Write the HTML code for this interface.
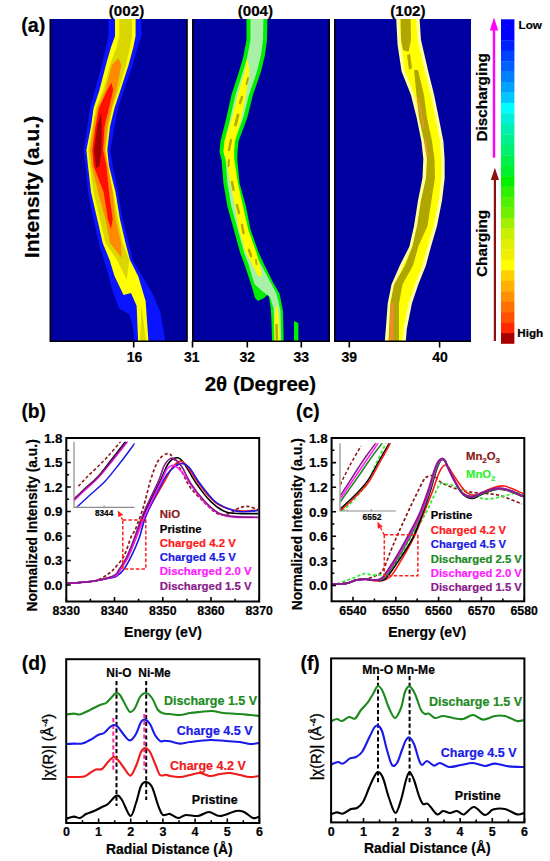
<!DOCTYPE html>
<html><head><meta charset="utf-8"><style>
html,body{margin:0;padding:0;background:#fff;width:550px;height:861px;overflow:hidden}
svg{display:block}
</style></head><body>
<svg width="550" height="861" viewBox="0 0 550 861">
<rect x="0" y="0" width="550" height="861" fill="#fff"/>
<clipPath id="c1"><rect x="50" y="19" width="137" height="322"/></clipPath>
<clipPath id="c2"><rect x="192" y="19" width="137.5" height="322"/></clipPath>
<clipPath id="c3"><rect x="334.5" y="19" width="136.5" height="322"/></clipPath>
<rect x="50" y="19" width="137" height="322" fill="#0000a0"/>
<rect x="192" y="19" width="137.5" height="322" fill="#0000a0"/>
<rect x="334.5" y="19" width="136.5" height="322" fill="#0000a0"/>
<g clip-path="url(#c1)"><polygon fill="#0a14ff" points="108.5,15.0 108.5,36.0 105.9,47.7 101.8,65.0 95.0,90.0 90.0,108.0 87.3,126.4 83.6,150.0 85.5,166.0 88.0,192.0 93.6,219.5 98.0,240.0 103.9,260.0 108.0,273.0 113.0,292.7 119.5,309.0 129.3,314.0 132.6,325.5 135.0,345.0 166.0,345.0 160.4,312.4 153.8,296.0 142.4,276.4 132.6,260.0 128.0,240.0 122.7,219.5 118.0,192.0 112.7,166.0 110.5,150.0 114.5,126.4 118.0,108.0 124.1,90.0 132.7,65.0 137.5,47.7 141.5,36.0 141.5,15.0"/><polygon fill="#ffff00" points="115.0,15.0 115.0,36.0 110.8,47.7 105.9,65.0 99.5,90.0 93.6,108.0 91.0,126.4 86.4,150.0 88.0,166.0 91.0,192.0 97.3,219.5 102.7,243.0 109.6,260.0 114.5,276.0 123.5,295.0 131.0,293.0 136.6,305.8 138.3,345.0 148.7,345.0 145.6,301.0 138.3,276.4 130.0,260.0 125.5,243.0 120.0,219.5 115.5,192.0 109.0,166.0 107.3,150.0 110.0,126.4 114.5,108.0 120.5,90.0 128.6,65.0 133.2,47.7 135.6,36.0 135.6,15.0"/><polygon fill="#dad600" points="119.3,15.0 119.3,36.0 116.3,47.7 110.0,65.0 103.2,90.0 96.0,108.0 92.5,126.4 88.2,150.0 90.0,166.0 93.5,192.0 100.0,219.5 105.5,243.0 117.0,260.0 126.8,280.0 126.8,280.0 129.3,260.0 122.7,243.0 118.0,219.5 113.0,192.0 107.5,166.0 105.8,150.0 108.5,126.4 112.5,108.0 118.6,90.0 125.9,65.0 129.9,47.7 132.0,36.0 132.0,15.0"/><polygon fill="#dad600" points="141.5,305.8 140,345 146.5,345"/><polygon fill="#ff8a00" points="118.5,58.2 111.8,65.0 105.5,90.0 97.3,108.0 93.6,126.4 90.0,150.0 91.8,166.0 98.0,192.0 105.5,219.5 110.0,243.0 121.8,258.0 121.8,258.0 121.0,243.0 115.5,219.5 112.7,192.0 108.0,166.0 105.0,150.0 107.3,126.4 111.8,108.0 116.4,90.0 121.4,65.0 118.5,58.2"/><polygon fill="#ff1000" points="111.5,82.7 107.3,90.0 99.0,108.0 95.5,126.4 92.3,150.0 93.6,166.0 103.6,192.0 108.0,219.5 111.0,229.0 111.0,229.0 112.7,219.5 109.0,192.0 106.4,166.0 103.2,150.0 104.5,126.4 109.0,108.0 113.2,90.0 111.5,82.7"/><polygon fill="#a00000" points="101,113 97.3,126.4 94.1,150 96,168 99.5,166 101.4,150 101.8,126.4"/></g>
<g clip-path="url(#c2)"><polygon fill="#00ee00" points="246.5,15.0 246.5,40.0 243.0,58.0 239.0,71.6 231.5,94.8 226.3,118.0 220.5,141.3 219.5,152.0 221.6,160.0 223.4,183.2 227.4,206.5 233.8,229.7 240.2,252.9 244.5,264.5 251.8,286.4 255.0,298.0 258.0,301.0 264.0,298.0 268.5,294.0 270.7,308.0 271.5,322.7 272.2,345.0 283.8,345.0 283.0,311.0 279.5,293.6 273.6,283.5 264.2,264.5 258.8,252.9 250.6,229.7 246.0,206.5 239.6,183.2 237.3,160.0 237.5,152.0 238.5,141.3 247.2,118.0 253.0,94.8 261.0,71.6 265.0,55.0 267.0,40.0 267.5,15.0"/><polygon fill="#a8f0a8" points="250.5,15.0 250.5,40.0 247.0,58.0 243.0,71.6 235.5,94.8 230.3,118.0 224.5,141.3 223.5,152.0 225.6,160.0 227.4,183.2 231.4,206.5 237.8,229.7 244.2,252.9 248.5,264.5 254.5,284.0 262.0,291.0 270.0,297.0 273.5,308.0 274.0,322.7 274.5,345.0 281.3,345.0 280.5,311.0 276.5,293.6 254.8,252.9 246.6,229.7 242.0,206.5 235.6,183.2 233.3,160.0 233.5,152.0 234.5,141.3 243.2,118.0 249.0,94.8 257.0,71.6 261.0,55.0 263.0,40.0 263.5,15.0"/><polygon fill="#ffff00" points="247.0,60.0 244.8,71.6 237.9,94.8 232.0,118.0 224.5,141.3 223.5,152.0 226.3,160.0 230.3,183.2 235.0,206.5 239.0,229.7 246.0,252.9 252.0,264.0 258.0,276.0 262.0,276.0 259.5,264.0 256.5,252.9 248.3,229.7 243.1,206.5 237.9,183.2 234.4,160.0 234.0,152.0 235.0,141.3 241.4,118.0 246.0,94.8 249.5,71.6 248.0,60.0"/><polygon fill="#ffff00" points="276,306 274.3,322 274.8,345 280,345 279.2,322 277.5,306"/><polygon fill="#00ee00" points="294,321 298.4,323 298.4,345 294,345"/><path d="M248.0,78.0 L246.5,84.0" stroke="#b4ac00" stroke-width="2.0" stroke-linecap="round"/><path d="M242.0,97.0 L240.0,103.0" stroke="#b4ac00" stroke-width="2.5" stroke-linecap="round"/><path d="M238.0,115.0 L235.5,125.0" stroke="#b4ac00" stroke-width="3.0" stroke-linecap="round"/><path d="M231.0,140.0 L229.0,150.0" stroke="#b4ac00" stroke-width="2.5" stroke-linecap="round"/><path d="M229.0,160.0 L228.5,166.0" stroke="#b4ac00" stroke-width="2.0" stroke-linecap="round"/><path d="M232.0,182.0 L233.5,190.0" stroke="#b4ac00" stroke-width="2.5" stroke-linecap="round"/><path d="M237.0,205.0 L239.0,213.0" stroke="#b4ac00" stroke-width="2.5" stroke-linecap="round"/><path d="M242.0,225.0 L243.5,233.0" stroke="#b4ac00" stroke-width="2.5" stroke-linecap="round"/><path d="M249.0,250.0 L251.0,256.0" stroke="#b4ac00" stroke-width="2.5" stroke-linecap="round"/><path d="M256.0,260.0 L256.5,264.0" stroke="#b4ac00" stroke-width="2.0" stroke-linecap="round"/><path d="M276.5,325.0 L276.8,339.0" stroke="#b4ac00" stroke-width="2.5" stroke-linecap="round"/></g>
<g clip-path="url(#c3)"><polygon fill="#ffff98" points="396.0,15.0 397.6,45.0 401.6,71.6 410.9,94.8 416.7,118.0 421.4,141.3 423.3,158.7 422.5,178.0 418.0,200.5 414.0,226.0 409.4,246.4 399.8,265.5 391.5,284.5 387.7,303.6 385.8,329.0 384.5,345.0 405.5,345.0 406.8,329.0 411.9,303.6 418.3,284.5 425.9,265.5 431.0,246.4 437.0,226.0 442.0,200.5 444.7,178.0 444.6,158.7 443.4,141.3 438.8,118.0 434.1,94.8 428.3,71.6 421.0,40.0 419.3,15.0"/><polygon fill="#ffff00" points="399.5,15.0 401.1,45.0 405.1,71.6 414.4,94.8 420.2,118.0 424.9,141.3 426.8,158.7 426.0,178.0 421.5,200.5 417.5,226.0 412.9,246.4 403.3,265.5 395.0,284.5 391.2,303.6 389.3,329.0 388.0,345.0 402.0,345.0 403.3,329.0 408.4,303.6 414.8,284.5 422.4,265.5 427.5,246.4 433.5,226.0 438.5,200.5 441.2,178.0 441.1,158.7 439.9,141.3 435.3,118.0 430.6,94.8 424.8,71.6 417.5,40.0 415.8,15.0"/><polygon fill="#b0a600" points="414.0,70.0 416.5,95.0 419.0,118.0 424.0,141.0 427.0,159.0 426.0,178.0 421.0,200.0 417.0,226.0 412.5,246.0 405.0,265.5 394.0,284.5 390.3,303.6 389.0,329.0 388.5,345.0 399.0,345.0 399.0,329.0 399.0,303.6 402.5,284.5 413.0,265.5 418.5,246.0 427.5,226.0 431.5,200.0 435.0,178.0 434.5,159.0 432.0,141.0 427.0,118.0 424.0,95.0 418.0,70.0"/><polygon fill="#b0a600" points="400.5,15 410.5,15 411,40 408.5,52 403,50 401,40"/><polygon fill="#b0a600" points="407,55 410,54 412,68 409,70"/><path d="M418.0,98.0 L424.0,128.0" stroke="#f09040" stroke-width="1.6" stroke-linecap="round"/><path d="M425.0,140.0 L428.0,156.0" stroke="#f09040" stroke-width="1.6" stroke-linecap="round"/><polygon fill="#f08a30" points="391,303 394,303 393.5,345 389.5,345"/></g>
<g stroke="#000" stroke-width="1.6" fill="none">
<path d="M50.3,19 V341.2 H187 V19"/>
<path d="M192.8,19 V341.2 H329.2 V19"/>
<path d="M334.8,19 V341.2 H471"/>
<path d="M133.7,341 V347.5"/>
<path d="M192.5,341 V347.5"/>
<path d="M247.3,341 V347.5"/>
<path d="M301.3,341 V347.5"/>
<path d="M349.3,341 V347.5"/>
<path d="M439.6,341 V347.5"/>
</g>
<text x="134.5" y="362.2" font-size="14" text-anchor="middle" font-family="Liberation Sans" font-weight="bold" stroke="#000" stroke-width="0.2">16</text>
<text x="191.8" y="362.2" font-size="14" text-anchor="middle" font-family="Liberation Sans" font-weight="bold" stroke="#000" stroke-width="0.2">31</text>
<text x="247.3" y="362.2" font-size="14" text-anchor="middle" font-family="Liberation Sans" font-weight="bold" stroke="#000" stroke-width="0.2">32</text>
<text x="301.3" y="362.2" font-size="14" text-anchor="middle" font-family="Liberation Sans" font-weight="bold" stroke="#000" stroke-width="0.2">33</text>
<text x="349.3" y="362.2" font-size="14" text-anchor="middle" font-family="Liberation Sans" font-weight="bold" stroke="#000" stroke-width="0.2">39</text>
<text x="440.0" y="362.2" font-size="14" text-anchor="middle" font-family="Liberation Sans" font-weight="bold" stroke="#000" stroke-width="0.2">40</text>
<text x="260.4" y="391.4" font-size="20.5" text-anchor="middle" font-family="Liberation Sans" font-weight="bold" stroke="#000" stroke-width="0.2">2θ (Degree)</text>
<text transform="translate(39.2,187) rotate(-90)" x="0" y="0" font-size="21" text-anchor="middle" font-family="Liberation Sans" font-weight="bold" stroke="#000" stroke-width="0.2">Intensity (a.u.)</text>
<text x="21.2" y="32.3" font-size="19.8" font-family="Liberation Sans" font-weight="bold" stroke="#000" stroke-width="0.2">(a)</text>
<text x="126.5" y="15.8" font-size="15.2" text-anchor="middle" font-family="Liberation Sans" font-weight="bold" stroke="#000" stroke-width="0.2">(002)</text>
<text x="255.4" y="15.8" font-size="15.2" text-anchor="middle" font-family="Liberation Sans" font-weight="bold" stroke="#000" stroke-width="0.2">(004)</text>
<text x="407.9" y="15.8" font-size="15.2" text-anchor="middle" font-family="Liberation Sans" font-weight="bold" stroke="#000" stroke-width="0.2">(102)</text>
<rect x="501" y="19.30" width="13.4" height="10.76" fill="#0000ff"/>
<rect x="501" y="29.76" width="13.4" height="10.76" fill="#0000ff"/>
<rect x="501" y="40.22" width="13.4" height="10.76" fill="#0020ff"/>
<rect x="501" y="50.67" width="13.4" height="10.76" fill="#0040ff"/>
<rect x="501" y="61.13" width="13.4" height="10.76" fill="#0060ff"/>
<rect x="501" y="71.59" width="13.4" height="10.76" fill="#0080ff"/>
<rect x="501" y="82.05" width="13.4" height="10.76" fill="#00a0ff"/>
<rect x="501" y="92.51" width="13.4" height="10.76" fill="#00c8ff"/>
<rect x="501" y="102.96" width="13.4" height="10.76" fill="#00ffff"/>
<rect x="501" y="113.42" width="13.4" height="10.76" fill="#00f0d8"/>
<rect x="501" y="123.88" width="13.4" height="10.76" fill="#00f0b0"/>
<rect x="501" y="134.34" width="13.4" height="10.76" fill="#00f090"/>
<rect x="501" y="144.80" width="13.4" height="10.76" fill="#00f070"/>
<rect x="501" y="155.25" width="13.4" height="10.76" fill="#00f050"/>
<rect x="501" y="165.71" width="13.4" height="10.76" fill="#00f030"/>
<rect x="501" y="176.17" width="13.4" height="10.76" fill="#00f000"/>
<rect x="501" y="186.63" width="13.4" height="10.76" fill="#30f000"/>
<rect x="501" y="197.09" width="13.4" height="10.76" fill="#50f000"/>
<rect x="501" y="207.55" width="13.4" height="10.76" fill="#70f000"/>
<rect x="501" y="218.00" width="13.4" height="10.76" fill="#a0f000"/>
<rect x="501" y="228.46" width="13.4" height="10.76" fill="#c8f000"/>
<rect x="501" y="238.92" width="13.4" height="10.76" fill="#e0f000"/>
<rect x="501" y="249.38" width="13.4" height="10.76" fill="#f0f000"/>
<rect x="501" y="259.84" width="13.4" height="10.76" fill="#ffff00"/>
<rect x="501" y="270.29" width="13.4" height="10.76" fill="#ffd000"/>
<rect x="501" y="280.75" width="13.4" height="10.76" fill="#ffb000"/>
<rect x="501" y="291.21" width="13.4" height="10.76" fill="#ff9000"/>
<rect x="501" y="301.67" width="13.4" height="10.76" fill="#ff7000"/>
<rect x="501" y="312.13" width="13.4" height="10.76" fill="#ff5000"/>
<rect x="501" y="322.58" width="13.4" height="10.76" fill="#ff2800"/>
<rect x="501" y="333.04" width="13.4" height="10.76" fill="#a80000"/>
<text x="518.6" y="29" font-size="11.7" font-family="Liberation Sans" font-weight="bold" stroke="#000" stroke-width="0.2">Low</text>
<text x="517.3" y="336.6" font-size="11.7" font-family="Liberation Sans" font-weight="bold" stroke="#000" stroke-width="0.2">High</text>
<rect x="492.8" y="29" width="2.4" height="128.7" fill="#ff00ff"/>
<polygon points="494,17.5 498.2,30.5 489.8,30.5" fill="#ff00ff"/>
<rect x="493.8" y="178" width="2.2" height="163" fill="#8b1010"/>
<polygon points="494.9,167.7 499,180 490.8,180" fill="#8b1010"/>
<text transform="translate(487.4,97.3) rotate(-90)" font-size="15.3" text-anchor="middle" font-family="Liberation Sans" font-weight="bold" stroke="#000" stroke-width="0.2">Discharging</text>
<text transform="translate(487.4,243.4) rotate(-90)" font-size="15.3" text-anchor="middle" font-family="Liberation Sans" font-weight="bold" stroke="#000" stroke-width="0.2">Charging</text>
<text x="21.4" y="418" font-size="19.3" font-family="Liberation Sans" font-weight="bold" stroke="#000" stroke-width="0.2">(b)</text>
<text x="62.5" y="589.7" font-size="13.4" text-anchor="end" font-family="Liberation Sans" font-weight="bold" stroke="#000" stroke-width="0.2">0.0</text>
<text x="62.5" y="565.2" font-size="13.4" text-anchor="end" font-family="Liberation Sans" font-weight="bold" stroke="#000" stroke-width="0.2">0.3</text>
<text x="62.5" y="540.7" font-size="13.4" text-anchor="end" font-family="Liberation Sans" font-weight="bold" stroke="#000" stroke-width="0.2">0.6</text>
<text x="62.5" y="516.2" font-size="13.4" text-anchor="end" font-family="Liberation Sans" font-weight="bold" stroke="#000" stroke-width="0.2">0.9</text>
<text x="62.5" y="491.7" font-size="13.4" text-anchor="end" font-family="Liberation Sans" font-weight="bold" stroke="#000" stroke-width="0.2">1.2</text>
<text x="62.5" y="467.2" font-size="13.4" text-anchor="end" font-family="Liberation Sans" font-weight="bold" stroke="#000" stroke-width="0.2">1.5</text>
<text x="62.5" y="442.7" font-size="13.4" text-anchor="end" font-family="Liberation Sans" font-weight="bold" stroke="#000" stroke-width="0.2">1.8</text>
<text x="66.3" y="615.2" font-size="12.3" text-anchor="middle" font-family="Liberation Sans" font-weight="bold" stroke="#000" stroke-width="0.2">8330</text>
<text x="114.5" y="615.2" font-size="12.3" text-anchor="middle" font-family="Liberation Sans" font-weight="bold" stroke="#000" stroke-width="0.2">8340</text>
<text x="162.8" y="615.2" font-size="12.3" text-anchor="middle" font-family="Liberation Sans" font-weight="bold" stroke="#000" stroke-width="0.2">8350</text>
<text x="211.0" y="615.2" font-size="12.3" text-anchor="middle" font-family="Liberation Sans" font-weight="bold" stroke="#000" stroke-width="0.2">8360</text>
<text x="259.2" y="615.2" font-size="12.3" text-anchor="middle" font-family="Liberation Sans" font-weight="bold" stroke="#000" stroke-width="0.2">8370</text>
<text x="163" y="637" font-size="14" text-anchor="middle" font-family="Liberation Sans" font-weight="bold" stroke="#000" stroke-width="0.2">Energy (eV)</text>
<text transform="translate(36.6,525.4) rotate(-90)" font-size="13.85" text-anchor="middle" font-family="Liberation Sans" font-weight="bold" stroke="#000" stroke-width="0.2">Normalized Intensity (a.u.)</text>
<clipPath id="cb"><rect x="67" y="439" width="191" height="161.5"/></clipPath>
<g clip-path="url(#cb)">
<path d="M66.3,583.5 C70.4,583.2 85.4,582.2 91.0,581.5 C96.6,580.8 97.2,580.2 100.0,579.0 C102.8,577.8 105.8,575.6 108.0,574.0 C110.2,572.4 110.8,572.5 113.5,569.5 C116.2,566.5 121.1,561.2 124.0,555.8 C126.9,550.4 129.0,541.9 131.0,537.2 C133.0,532.6 133.8,533.3 136.0,527.9 C138.2,522.5 141.6,512.8 144.0,505.0 C146.4,497.2 148.0,488.3 150.3,481.0 C152.6,473.7 155.2,465.6 158.0,461.0 C160.8,456.4 164.7,454.3 167.2,453.7 C169.7,453.1 170.5,454.4 173.0,457.5 C175.5,460.6 179.2,467.1 182.0,472.0 C184.8,476.9 186.1,481.7 190.0,487.0 C193.9,492.3 200.8,499.1 205.5,503.6 C210.2,508.1 214.3,512.3 218.2,514.0 C222.1,515.7 225.7,514.5 229.0,513.6 C232.3,512.7 234.9,509.7 238.0,508.5 C241.1,507.3 244.2,506.3 247.3,506.4 C250.4,506.5 254.5,508.4 256.4,509.0 C258.3,509.6 258.1,509.8 258.5,510.0" fill="none" stroke="#8b1a1a" stroke-width="1.70" stroke-linejoin="round" stroke-dasharray="3.2,2.2"/>
<path d="M66.3,583.5 C70.4,583.2 84.4,582.3 91.0,581.5 C97.6,580.7 101.9,579.5 106.0,578.5 C110.1,577.5 113.3,576.9 115.5,575.5 C117.7,574.1 117.4,573.3 119.4,570.0 C121.5,566.7 125.2,561.3 127.8,555.8 C130.4,550.3 132.4,544.3 135.2,537.2 C138.0,530.1 140.2,522.6 144.5,513.0 C148.8,503.4 156.9,488.0 160.8,479.8 C164.7,471.6 165.4,467.7 168.0,464.0 C170.6,460.3 173.9,458.0 176.5,457.8 C179.1,457.6 180.3,458.4 183.6,462.7 C186.9,467.0 191.8,477.1 196.4,483.6 C201.0,490.1 206.2,497.1 211.0,501.8 C215.8,506.5 220.4,509.8 225.5,511.8 C230.6,513.8 236.3,513.3 241.8,513.6 C247.3,513.9 255.7,513.6 258.5,513.6" fill="none" stroke="#000000" stroke-width="1.60" stroke-linejoin="round"/>
<path d="M66.3,583.5 C70.4,583.2 84.4,582.3 91.0,581.5 C97.6,580.7 101.8,579.5 106.0,578.5 C110.2,577.5 113.7,577.2 116.0,575.8 C118.3,574.4 117.9,573.6 120.0,570.3 C122.1,567.0 126.0,561.3 128.7,555.8 C131.4,550.3 133.5,544.1 136.3,537.2 C139.1,530.4 140.8,524.3 145.7,514.7 C150.5,505.1 161.0,487.6 165.4,479.8 C169.8,472.0 169.6,471.1 172.0,468.0 C174.4,464.9 177.5,461.6 180.0,461.3 C182.5,461.0 183.7,462.0 187.0,466.0 C190.3,470.0 195.4,479.5 200.0,485.5 C204.6,491.5 209.7,497.9 214.5,501.8 C219.3,505.7 224.4,507.5 229.0,509.0 C233.6,510.5 236.9,510.8 241.8,511.0 C246.7,511.2 255.7,510.2 258.5,510.0" fill="none" stroke="#ff1a1a" stroke-width="1.60" stroke-linejoin="round"/>
<path d="M66.3,583.5 C70.4,583.2 84.4,582.3 91.0,581.5 C97.6,580.7 101.8,579.6 106.0,578.8 C110.2,578.0 113.1,578.0 116.0,576.5 C118.9,575.0 120.9,573.2 123.5,569.7 C126.1,566.2 128.8,561.2 131.5,555.8 C134.2,550.4 137.1,543.8 139.5,537.2 C141.9,530.6 142.0,525.6 146.0,516.0 C150.0,506.4 159.4,487.6 163.7,479.8 C168.0,472.0 169.1,471.7 172.0,469.0 C174.9,466.3 178.3,463.9 181.1,463.6 C183.9,463.3 185.8,464.0 189.0,467.3 C192.2,470.6 195.8,478.0 200.0,483.6 C204.2,489.2 209.7,496.8 214.5,501.0 C219.3,505.2 224.4,507.2 229.0,509.0 C233.6,510.8 236.9,511.6 241.8,511.8 C246.7,512.0 255.7,510.7 258.5,510.5" fill="none" stroke="#1a1ae6" stroke-width="1.60" stroke-linejoin="round"/>
<path d="M66.3,583.5 C70.4,583.2 84.4,582.3 91.0,581.5 C97.6,580.7 101.8,579.5 106.0,578.5 C110.2,577.5 113.7,576.9 116.0,575.5 C118.3,574.1 117.7,573.3 119.8,570.0 C121.9,566.7 125.8,561.3 128.5,555.8 C131.2,550.3 133.3,544.1 136.1,537.2 C138.9,530.4 141.0,524.3 145.3,514.7 C149.6,505.1 158.3,487.4 161.9,479.8 C165.5,472.2 165.2,471.4 167.0,469.0 C168.8,466.6 170.6,465.5 172.4,465.3 C174.2,465.1 175.9,466.2 178.0,468.0 C180.1,469.8 182.8,473.2 185.0,476.0 C187.2,478.8 187.9,480.8 191.0,485.0 C194.1,489.2 199.1,496.3 203.6,501.0 C208.1,505.7 213.2,510.3 218.0,513.0 C222.8,515.7 225.9,516.2 232.7,517.0 C239.4,517.8 254.2,517.4 258.5,517.5" fill="none" stroke="#ff1aff" stroke-width="1.60" stroke-linejoin="round"/>
<path d="M66.3,583.5 C70.4,583.2 84.4,582.3 91.0,581.5 C97.6,580.7 102.0,579.6 106.0,578.5 C110.0,577.4 112.8,576.5 115.0,575.0 C117.2,573.5 116.9,572.9 118.9,569.7 C121.0,566.5 124.7,561.2 127.3,555.8 C129.9,550.4 131.9,544.5 134.7,537.2 C137.5,529.9 139.9,521.6 144.0,512.0 C148.1,502.4 155.7,487.5 159.0,479.8 C162.3,472.1 162.1,469.6 164.0,466.0 C165.9,462.4 168.6,459.4 170.6,458.4 C172.6,457.4 174.1,458.6 176.0,460.0 C177.9,461.4 179.5,463.1 182.0,467.0 C184.5,470.9 187.4,478.1 191.0,483.6 C194.6,489.1 199.1,495.1 203.6,500.0 C208.1,504.9 213.2,510.0 218.0,512.7 C222.8,515.4 225.9,515.6 232.7,516.4 C239.4,517.2 254.2,517.1 258.5,517.3" fill="none" stroke="#8a1a8a" stroke-width="1.60" stroke-linejoin="round"/>
</g>
<rect x="122.8" y="520" width="23" height="49" fill="none" stroke="#ff2020" stroke-width="1.5" stroke-dasharray="3.6,2"/>
<path d="M122.7,520 L119.5,514" fill="none" stroke="#ff2020" stroke-width="1.3" stroke-dasharray="3,2"/>
<polygon points="117.6,510.5 123.2,514.8 118.5,517.3" fill="#ff2020"/>
<path d="M74,441.8 V507.3 H134.4" fill="none" stroke="#8c8c8c" stroke-width="1.2"/>
<path d="M104.1,507.3 v-2" fill="none" stroke="#8c8c8c" stroke-width="1"/>
<text x="104.1" y="516.2" font-size="8.2" text-anchor="middle" font-family="Liberation Sans" font-weight="bold" stroke="#000" stroke-width="0.2">8344</text>
<clipPath id="ib"><rect x="74.6" y="441.8" width="60" height="65"/></clipPath><g clip-path="url(#ib)">
<path d="M78.4,486.2 C80.0,484.5 84.5,479.5 88.0,476.0 C91.5,472.5 95.8,468.7 99.5,465.0 C103.2,461.3 106.4,458.0 110.0,454.0 C113.6,450.0 119.2,443.2 121.0,441.0" fill="none" stroke="#8b1a1a" stroke-width="1.50" stroke-linejoin="round" stroke-dasharray="3.2,2.2"/>
<path d="M72.0,501.0 C74.2,498.9 80.7,492.6 85.0,488.5 C89.3,484.4 93.5,481.6 98.0,476.7 C102.5,471.8 107.3,464.9 112.0,459.0 C116.7,453.1 123.7,444.0 126.0,441.0" fill="none" stroke="#000000" stroke-width="1.60" stroke-linejoin="round"/>
<path d="M72.0,502.5 C74.2,500.4 80.7,494.1 85.0,490.0 C89.3,485.9 93.3,483.0 98.0,478.0 C102.7,473.0 108.0,466.2 113.0,460.0 C118.0,453.8 125.5,444.2 128.0,441.0" fill="none" stroke="#ff1aff" stroke-width="1.60" stroke-linejoin="round"/>
<path d="M72.0,501.5 C74.2,499.4 80.7,493.0 85.0,489.0 C89.3,485.0 93.4,482.2 98.0,477.3 C102.6,472.4 107.7,465.6 112.5,459.5 C117.3,453.4 124.6,444.1 127.0,441.0" fill="none" stroke="#8a1a8a" stroke-width="1.30" stroke-linejoin="round"/>
<path d="M76.0,508.0 C78.3,505.8 85.1,499.5 90.0,495.0 C94.9,490.5 100.3,486.3 105.3,481.0 C110.3,475.7 115.0,469.3 120.0,463.0 C125.0,456.7 132.5,446.3 135.0,443.0" fill="none" stroke="#1a1ae6" stroke-width="1.50" stroke-linejoin="round"/>
</g>
<text x="159.8" y="518.2" font-size="11.4" fill="#8b1a1a" font-family="Liberation Sans" font-weight="bold" stroke="#8b1a1a" stroke-width="0.2">NiO</text>
<text x="159.8" y="532.5" font-size="11.4" fill="#000000" font-family="Liberation Sans" font-weight="bold" stroke="#000000" stroke-width="0.2">Pristine</text>
<text x="159.8" y="546.7" font-size="11.4" fill="#ff1a1a" font-family="Liberation Sans" font-weight="bold" stroke="#ff1a1a" stroke-width="0.2">Charged 4.2 V</text>
<text x="159.8" y="561.0" font-size="11.4" fill="#1a1ae6" font-family="Liberation Sans" font-weight="bold" stroke="#1a1ae6" stroke-width="0.2">Charged 4.5 V</text>
<text x="159.8" y="575.2" font-size="11.4" fill="#ff1aff" font-family="Liberation Sans" font-weight="bold" stroke="#ff1aff" stroke-width="0.2">Discharged 2.0 V</text>
<text x="159.8" y="589.5" font-size="11.4" fill="#8a1a8a" font-family="Liberation Sans" font-weight="bold" stroke="#8a1a8a" stroke-width="0.2">Discharged 1.5 V</text>
<g stroke="#000" stroke-width="2" fill="none">
<rect x="66.3" y="438.0" width="192.9" height="163.5"/>
<path stroke-width="1.6" d="M66.3,585.0 h4.5 M66.3,560.5 h4.5 M66.3,536.0 h4.5 M66.3,511.5 h4.5 M66.3,487.0 h4.5 M66.3,462.5 h4.5 M66.3,438.0 h4.5 M66.3,585.0 h2.8 M66.3,572.7 h2.8 M66.3,548.2 h2.8 M66.3,523.7 h2.8 M66.3,499.2 h2.8 M66.3,474.7 h2.8 M66.3,450.2 h2.8 M66.3,601.5 v-4.5 M114.5,601.5 v-4.5 M162.8,601.5 v-4.5 M211.0,601.5 v-4.5 M259.2,601.5 v-4.5 M90.4,601.5 v-2.8 M138.6,601.5 v-2.8 M186.9,601.5 v-2.8 M235.1,601.5 v-2.8 "/>
</g>
<text x="296" y="418" font-size="19.3" font-family="Liberation Sans" font-weight="bold" stroke="#000" stroke-width="0.2">(c)</text>
<text x="327.6" y="590.2" font-size="13.4" text-anchor="end" font-family="Liberation Sans" font-weight="bold" stroke="#000" stroke-width="0.2">0.0</text>
<text x="327.6" y="565.6" font-size="13.4" text-anchor="end" font-family="Liberation Sans" font-weight="bold" stroke="#000" stroke-width="0.2">0.3</text>
<text x="327.6" y="541.0" font-size="13.4" text-anchor="end" font-family="Liberation Sans" font-weight="bold" stroke="#000" stroke-width="0.2">0.6</text>
<text x="327.6" y="516.5" font-size="13.4" text-anchor="end" font-family="Liberation Sans" font-weight="bold" stroke="#000" stroke-width="0.2">0.9</text>
<text x="327.6" y="491.9" font-size="13.4" text-anchor="end" font-family="Liberation Sans" font-weight="bold" stroke="#000" stroke-width="0.2">1.2</text>
<text x="327.6" y="467.3" font-size="13.4" text-anchor="end" font-family="Liberation Sans" font-weight="bold" stroke="#000" stroke-width="0.2">1.5</text>
<text x="327.6" y="442.7" font-size="13.4" text-anchor="end" font-family="Liberation Sans" font-weight="bold" stroke="#000" stroke-width="0.2">1.8</text>
<text x="353.0" y="615" font-size="12.3" text-anchor="middle" font-family="Liberation Sans" font-weight="bold" stroke="#000" stroke-width="0.2">6540</text>
<text x="395.8" y="615" font-size="12.3" text-anchor="middle" font-family="Liberation Sans" font-weight="bold" stroke="#000" stroke-width="0.2">6550</text>
<text x="438.6" y="615" font-size="12.3" text-anchor="middle" font-family="Liberation Sans" font-weight="bold" stroke="#000" stroke-width="0.2">6560</text>
<text x="481.4" y="615" font-size="12.3" text-anchor="middle" font-family="Liberation Sans" font-weight="bold" stroke="#000" stroke-width="0.2">6570</text>
<text x="524.2" y="615" font-size="12.3" text-anchor="middle" font-family="Liberation Sans" font-weight="bold" stroke="#000" stroke-width="0.2">6580</text>
<text x="427.2" y="637" font-size="14" text-anchor="middle" font-family="Liberation Sans" font-weight="bold" stroke="#000" stroke-width="0.2">Energy (eV)</text>
<text transform="translate(301.6,524.2) rotate(-90)" font-size="13.85" text-anchor="middle" font-family="Liberation Sans" font-weight="bold" stroke="#000" stroke-width="0.2">Normalized Intensity (a.u.)</text>
<clipPath id="cc"><rect x="332.4" y="439" width="191" height="161.5"/></clipPath><g clip-path="url(#cc)">
<path d="M331.6,584.2 C334.1,584.1 342.3,584.1 346.4,583.4 C350.5,582.7 352.7,580.8 356.2,580.0 C359.7,579.2 364.3,579.2 367.6,578.5 C370.9,577.8 373.4,576.9 376.0,575.5 C378.6,574.1 380.5,574.3 383.0,570.0 C385.5,565.7 388.6,556.1 391.2,549.8 C393.8,543.5 395.2,540.0 398.7,532.3 C402.2,524.5 407.9,512.0 412.1,503.3 C416.3,494.6 421.2,484.4 423.7,480.0 C426.2,475.6 425.8,477.8 427.0,477.0 C428.2,476.2 429.7,475.6 431.0,475.5 C432.3,475.4 433.2,475.2 435.0,476.5 C436.8,477.8 437.8,480.8 442.0,483.0 C446.2,485.2 454.0,488.3 460.0,490.0 C466.0,491.7 471.7,492.2 478.0,493.0 C484.3,493.8 490.7,493.2 498.0,495.0 C505.3,496.8 518.0,502.5 522.0,504.0" fill="none" stroke="#8b1a1a" stroke-width="1.70" stroke-linejoin="round" stroke-dasharray="3.2,2.2"/>
<path d="M331.6,584.2 C332.7,584.1 334.4,584.5 338.2,583.4 C342.0,582.3 350.1,579.2 354.5,577.6 C358.9,576.0 361.4,574.0 364.4,573.6 C367.4,573.2 369.5,575.1 372.5,575.2 C375.5,575.3 379.5,575.0 382.4,574.4 C385.3,573.8 387.6,573.7 390.0,571.5 C392.4,569.3 393.6,567.0 397.0,561.4 C400.4,555.8 405.7,545.9 410.3,538.1 C414.9,530.4 420.6,522.6 424.9,514.9 C429.2,507.1 433.3,496.8 435.9,491.6 C438.5,486.4 438.6,484.7 440.6,483.5 C442.6,482.3 445.8,484.2 448.0,484.6 C450.2,485.0 450.3,484.4 454.0,486.0 C457.7,487.6 464.7,491.8 470.0,494.0 C475.3,496.2 480.3,498.7 486.0,499.0 C491.7,499.3 499.0,497.0 504.0,496.0 C509.0,495.0 512.7,493.2 516.0,493.0 C519.3,492.8 522.7,494.7 524.0,495.0" fill="none" stroke="#33ee33" stroke-width="1.80" stroke-linejoin="round" stroke-dasharray="3.2,2.2"/>
<path d="M331.6,584.2 C334.1,584.1 342.3,584.1 346.4,583.4 C350.5,582.7 352.9,580.7 356.2,580.0 C359.5,579.3 362.2,579.1 366.0,579.3 C369.8,579.5 375.0,581.4 379.0,581.0 C383.0,580.6 386.4,580.3 390.0,577.0 C393.6,573.7 396.6,567.9 400.5,561.4 C404.4,554.9 409.7,545.9 413.5,538.1 C417.3,530.4 420.0,522.6 423.1,514.9 C426.2,507.1 430.2,497.2 432.4,491.6 C434.5,486.0 434.9,484.1 436.0,481.0 C437.1,477.9 438.0,475.2 439.0,473.0 C440.0,470.8 440.9,468.8 442.0,467.5 C443.1,466.2 444.2,465.1 445.3,465.0 C446.4,464.9 447.1,465.2 448.5,467.0 C449.9,468.8 451.1,471.8 454.0,476.0 C456.9,480.2 462.3,488.8 466.0,492.0 C469.7,495.2 472.0,495.5 476.0,495.0 C480.0,494.5 485.3,490.5 490.0,489.0 C494.7,487.5 498.3,485.2 504.0,486.0 C509.7,486.8 520.7,492.7 524.0,494.0" fill="none" stroke="#ff1a1a" stroke-width="1.60" stroke-linejoin="round"/>
<path d="M331.6,584.2 C334.1,584.1 342.3,584.1 346.4,583.4 C350.5,582.7 352.9,580.7 356.2,580.0 C359.5,579.3 363.0,579.3 366.0,579.3 C369.0,579.3 371.0,580.0 374.2,580.0 C377.4,580.0 381.0,582.1 385.0,579.0 C389.0,575.9 393.5,568.2 398.1,561.4 C402.7,554.6 408.7,545.9 412.7,538.1 C416.7,530.4 419.1,522.6 422.0,514.9 C424.9,507.1 428.1,497.8 430.1,491.6 C432.1,485.5 432.8,482.0 434.0,478.0 C435.2,474.0 436.3,470.2 437.3,467.5 C438.3,464.8 439.2,462.8 440.0,461.5 C440.8,460.2 441.3,459.6 442.2,459.5 C443.1,459.4 444.1,459.1 445.2,460.7 C446.3,462.3 447.0,465.4 448.8,469.2 C450.6,473.0 453.6,479.3 456.0,483.5 C458.4,487.7 460.2,492.0 463.0,494.5 C465.8,497.0 469.4,498.5 472.5,498.5 C475.6,498.5 477.6,496.0 481.5,494.5 C485.4,493.0 491.3,490.2 495.6,489.5 C499.9,488.8 503.2,489.4 507.5,490.5 C511.8,491.6 518.9,494.9 521.6,496.0 C524.4,497.1 523.6,496.8 524.0,497.0" fill="none" stroke="#000000" stroke-width="1.60" stroke-linejoin="round"/>
<path d="M331.6,584.2 C334.1,584.1 342.3,584.1 346.4,583.4 C350.5,582.7 352.9,580.7 356.2,580.0 C359.5,579.3 363.0,579.3 366.0,579.3 C369.0,579.3 371.2,580.1 374.2,580.0 C377.2,579.9 380.4,581.6 384.0,578.5 C387.6,575.4 391.6,568.1 395.8,561.4 C400.1,554.7 405.3,545.9 409.5,538.1 C413.7,530.4 417.7,522.6 421.0,514.9 C424.3,507.1 427.2,497.8 429.3,491.6 C431.4,485.5 432.3,481.9 433.5,478.0 C434.7,474.1 435.7,470.7 436.7,468.0 C437.7,465.3 438.6,463.4 439.5,462.0 C440.4,460.6 441.1,460.0 442.0,459.8 C442.9,459.6 443.9,459.4 445.0,461.0 C446.1,462.6 447.0,465.8 448.8,469.5 C450.6,473.2 453.6,479.4 456.0,483.5 C458.4,487.6 460.2,491.7 463.0,494.0 C465.8,496.3 469.4,497.5 472.5,497.5 C475.6,497.5 477.6,495.3 481.5,494.0 C485.4,492.7 491.3,490.1 495.6,489.5 C499.9,488.9 503.2,489.4 507.5,490.5 C511.8,491.6 518.9,494.9 521.6,496.0 C524.4,497.1 523.6,496.8 524.0,497.0" fill="none" stroke="#1a8a1a" stroke-width="1.60" stroke-linejoin="round"/>
<path d="M331.6,584.2 C334.1,584.1 342.3,584.1 346.4,583.4 C350.5,582.7 352.9,580.7 356.2,580.0 C359.5,579.3 363.0,579.3 366.0,579.3 C369.0,579.3 371.4,580.2 374.2,580.0 C377.0,579.8 379.5,580.9 382.8,577.8 C386.1,574.7 389.9,568.0 394.0,561.4 C398.1,554.8 403.2,545.9 407.5,538.1 C411.8,530.4 416.1,522.6 419.6,514.9 C423.1,507.1 426.2,497.8 428.3,491.6 C430.4,485.5 431.1,482.1 432.4,478.0 C433.6,473.9 434.7,470.1 435.8,467.3 C436.9,464.5 437.8,462.7 438.8,461.3 C439.8,459.9 440.7,459.2 441.7,459.0 C442.7,458.8 443.5,458.7 444.6,460.3 C445.7,461.9 446.6,464.9 448.4,468.6 C450.2,472.4 453.2,478.7 455.6,482.8 C458.0,486.9 460.0,491.0 462.7,493.3 C465.4,495.6 468.9,496.8 472.0,496.8 C475.1,496.8 477.6,494.5 481.5,493.1 C485.4,491.7 491.3,489.2 495.6,488.6 C499.9,488.1 503.2,488.6 507.5,489.8 C511.8,491.0 518.9,494.5 521.6,495.6 C524.4,496.7 523.6,496.4 524.0,496.6" fill="none" stroke="#1a1ae6" stroke-width="1.60" stroke-linejoin="round"/>
<path d="M331.6,584.2 C334.1,584.1 342.3,584.1 346.4,583.4 C350.5,582.7 352.9,580.7 356.2,580.0 C359.5,579.3 363.0,579.3 366.0,579.3 C369.0,579.3 371.4,580.2 374.2,580.0 C377.0,579.8 379.6,581.1 383.0,578.0 C386.4,574.9 390.5,568.0 394.7,561.4 C398.9,554.8 403.9,545.9 408.2,538.1 C412.4,530.4 416.8,522.6 420.2,514.9 C423.6,507.1 426.7,497.8 428.8,491.6 C430.9,485.5 431.6,482.0 432.8,478.0 C434.0,474.0 435.0,470.2 436.0,467.5 C437.0,464.8 438.0,462.9 439.0,461.5 C440.0,460.1 440.9,459.3 441.8,459.2 C442.8,459.1 443.6,459.0 444.7,460.6 C445.8,462.2 446.7,465.3 448.5,469.0 C450.3,472.7 453.3,478.9 455.7,483.0 C458.1,487.1 460.1,491.2 462.8,493.5 C465.5,495.8 468.9,497.0 472.0,497.0 C475.1,497.0 477.6,494.7 481.5,493.3 C485.4,491.9 491.3,489.4 495.6,488.8 C499.9,488.2 503.2,488.8 507.5,490.0 C511.8,491.2 518.9,494.7 521.6,495.8 C524.4,496.9 523.6,496.6 524.0,496.8" fill="none" stroke="#ff1aff" stroke-width="1.60" stroke-linejoin="round"/>
<path d="M331.6,584.2 C334.1,584.1 342.3,584.1 346.4,583.4 C350.5,582.7 352.9,580.7 356.2,580.0 C359.5,579.3 363.0,579.3 366.0,579.3 C369.0,579.3 371.5,580.3 374.2,580.0 C376.9,579.7 379.2,580.7 382.4,577.6 C385.6,574.5 389.4,568.0 393.5,561.4 C397.6,554.8 402.6,545.9 406.9,538.1 C411.1,530.4 415.5,522.6 419.0,514.9 C422.5,507.1 425.6,497.8 427.8,491.6 C430.0,485.5 430.7,482.1 432.0,478.0 C433.3,473.9 434.4,469.8 435.5,467.0 C436.6,464.2 437.5,462.4 438.5,461.0 C439.5,459.6 440.6,458.8 441.6,458.6 C442.6,458.4 443.4,458.4 444.5,460.0 C445.6,461.6 446.6,464.6 448.4,468.4 C450.2,472.2 453.1,478.5 455.5,482.6 C457.9,486.7 459.9,490.9 462.6,493.2 C465.4,495.5 468.9,496.7 472.0,496.7 C475.1,496.7 477.6,494.4 481.5,493.0 C485.4,491.6 491.3,489.1 495.6,488.5 C499.9,487.9 503.2,488.4 507.5,489.6 C511.8,490.8 518.9,494.4 521.6,495.5 C524.4,496.6 523.6,496.3 524.0,496.5" fill="none" stroke="#8a1a8a" stroke-width="1.90" stroke-linejoin="round"/>
</g>
<rect x="384.3" y="534.8" width="33.6" height="40.9" fill="none" stroke="#ff2020" stroke-width="1.5" stroke-dasharray="3.6,2"/>
<path d="M384.3,534.8 L379.5,526" fill="none" stroke="#ff2020" stroke-width="1.3" stroke-dasharray="3,2"/>
<polygon points="377.4,521.5 382.8,526.8 377.8,528.8" fill="#ff2020"/>
<path d="M340,443.3 V511 H396" fill="none" stroke="#8c8c8c" stroke-width="1.2"/>
<path d="M371.3,511 v-2 M347.3,511 v-1.5" fill="none" stroke="#8c8c8c" stroke-width="1"/>
<text x="372" y="519.5" font-size="8.5" text-anchor="middle" font-family="Liberation Sans" font-weight="bold" stroke="#000" stroke-width="0.2">6552</text>
<clipPath id="ic"><rect x="340.6" y="443.3" width="56" height="67.5"/></clipPath><g clip-path="url(#ic)">
<path d="M338.0,489.5 C339.8,485.8 345.2,474.2 349.0,467.0 C352.8,459.8 359.0,449.5 361.0,446.0" fill="none" stroke="#8b1a1a" stroke-width="1.50" stroke-linejoin="round" stroke-dasharray="3.2,2.2"/>
<path d="M342.0,511.0 C343.0,510.1 345.5,508.3 348.0,505.8 C350.5,503.3 353.9,499.6 357.0,496.0 C360.1,492.4 363.7,489.3 366.9,484.0 C370.1,478.7 372.8,470.8 376.0,464.0 C379.2,457.2 384.3,446.5 386.0,443.0" fill="none" stroke="#33ee33" stroke-width="1.80" stroke-linejoin="round" stroke-dasharray="3.2,2.2"/>
<path d="M338.0,511.0 C340.0,509.2 346.3,503.5 350.0,500.0 C353.7,496.5 356.9,493.4 360.0,490.0 C363.1,486.6 365.2,484.4 368.4,479.6 C371.6,474.8 375.4,467.3 379.0,461.0 C382.6,454.7 388.2,445.2 390.0,442.0" fill="none" stroke="#000000" stroke-width="1.50" stroke-linejoin="round"/>
<path d="M338.0,513.0 C340.0,511.2 346.3,505.5 350.0,502.0 C353.7,498.5 356.8,495.4 360.0,492.0 C363.2,488.6 365.7,486.5 369.0,481.5 C372.3,476.5 376.3,468.6 380.0,462.0 C383.7,455.4 389.2,445.3 391.0,442.0" fill="none" stroke="#ff1a1a" stroke-width="1.50" stroke-linejoin="round"/>
<path d="M338.0,505.0 C339.7,502.7 344.3,496.2 348.0,491.0 C351.7,485.8 356.2,479.5 360.0,474.0 C363.8,468.5 367.2,463.3 371.0,458.0 C374.8,452.7 381.0,444.7 383.0,442.0" fill="none" stroke="#1a8a1a" stroke-width="1.50" stroke-linejoin="round"/>
<path d="M338.0,502.0 C339.7,499.6 344.6,492.5 348.0,487.5 C351.4,482.5 355.2,476.9 358.5,472.0 C361.8,467.1 364.6,463.0 368.0,458.0 C371.4,453.0 377.2,444.7 379.0,442.0" fill="none" stroke="#ff1aff" stroke-width="1.50" stroke-linejoin="round"/>
<path d="M338.0,499.0 C339.7,496.5 344.6,489.2 348.0,484.0 C351.4,478.8 355.0,472.8 358.2,468.0 C361.4,463.2 363.9,459.3 367.0,455.0 C370.1,450.7 374.9,444.2 376.5,442.0" fill="none" stroke="#8a1a8a" stroke-width="1.50" stroke-linejoin="round"/>
</g>
<text x="466" y="459.5" font-size="11.3" fill="#8b1a1a" font-family="Liberation Sans" font-weight="bold" stroke="#8b1a1a" stroke-width="0.2">Mn<tspan font-size="8" dy="3">2</tspan><tspan dy="-3">O</tspan><tspan font-size="8" dy="3">3</tspan></text>
<text x="466" y="477.5" font-size="11.3" fill="#33ee33" font-family="Liberation Sans" font-weight="bold" stroke="#33ee33" stroke-width="0.2">MnO<tspan font-size="8" dy="3">2</tspan></text>
<text x="430.8" y="519.3" font-size="11.3" fill="#000000" font-family="Liberation Sans" font-weight="bold" stroke="#000000" stroke-width="0.2">Pristine</text>
<text x="430.8" y="533.7" font-size="11.3" fill="#ff1a1a" font-family="Liberation Sans" font-weight="bold" stroke="#ff1a1a" stroke-width="0.2">Charged 4.2 V</text>
<text x="430.8" y="548.1" font-size="11.3" fill="#1a1ae6" font-family="Liberation Sans" font-weight="bold" stroke="#1a1ae6" stroke-width="0.2">Charged 4.5 V</text>
<text x="430.8" y="562.5" font-size="11.3" fill="#1a8a1a" font-family="Liberation Sans" font-weight="bold" stroke="#1a8a1a" stroke-width="0.2">Discharged 2.5 V</text>
<text x="430.8" y="576.9" font-size="11.3" fill="#ff1aff" font-family="Liberation Sans" font-weight="bold" stroke="#ff1aff" stroke-width="0.2">Discharged 2.0 V</text>
<text x="430.8" y="591.3" font-size="11.3" fill="#8a1a8a" font-family="Liberation Sans" font-weight="bold" stroke="#8a1a8a" stroke-width="0.2">Discharged 1.5 V</text>
<g stroke="#000" stroke-width="2" fill="none">
<rect x="331.6" y="438.0" width="192.7" height="163.3"/>
<path stroke-width="1.6" d="M331.6,585.5 h4.5 M331.6,560.9 h4.5 M331.6,536.3 h4.5 M331.6,511.8 h4.5 M331.6,487.2 h4.5 M331.6,462.6 h4.5 M331.6,438.0 h4.5 M331.6,585.5 h2.8 M331.6,573.2 h2.8 M331.6,548.6 h2.8 M331.6,524.0 h2.8 M331.6,499.5 h2.8 M331.6,474.9 h2.8 M331.6,450.3 h2.8 M353.0,601.3 v-4.5 M395.8,601.3 v-4.5 M438.6,601.3 v-4.5 M481.4,601.3 v-4.5 M524.2,601.3 v-4.5 M374.4,601.3 v-2.8 M417.2,601.3 v-2.8 M460.0,601.3 v-2.8 M502.8,601.3 v-2.8 "/>
</g>
<text x="21.8" y="669.5" font-size="19.3" font-family="Liberation Sans" font-weight="bold" stroke="#000" stroke-width="0.2">(d)</text>
<text x="66.4" y="836.4" font-size="12.5" text-anchor="middle" font-family="Liberation Sans" font-weight="bold" stroke="#000" stroke-width="0.2">0</text>
<text x="98.6" y="836.4" font-size="12.5" text-anchor="middle" font-family="Liberation Sans" font-weight="bold" stroke="#000" stroke-width="0.2">1</text>
<text x="130.7" y="836.4" font-size="12.5" text-anchor="middle" font-family="Liberation Sans" font-weight="bold" stroke="#000" stroke-width="0.2">2</text>
<text x="162.9" y="836.4" font-size="12.5" text-anchor="middle" font-family="Liberation Sans" font-weight="bold" stroke="#000" stroke-width="0.2">3</text>
<text x="195.1" y="836.4" font-size="12.5" text-anchor="middle" font-family="Liberation Sans" font-weight="bold" stroke="#000" stroke-width="0.2">4</text>
<text x="227.3" y="836.4" font-size="12.5" text-anchor="middle" font-family="Liberation Sans" font-weight="bold" stroke="#000" stroke-width="0.2">5</text>
<text x="259.4" y="836.4" font-size="12.5" text-anchor="middle" font-family="Liberation Sans" font-weight="bold" stroke="#000" stroke-width="0.2">6</text>
<text x="169.3" y="853.5" font-size="13.9" text-anchor="middle" font-family="Liberation Sans" font-weight="bold" stroke="#000" stroke-width="0.2">Radial Distance (Å)</text>
<text transform="translate(53.2,747.3) rotate(-90)" font-size="14.6" text-anchor="middle" font-family="Liberation Sans" stroke="#000" stroke-width="0.35">|χ(R)| (Å<tspan font-size="9" dy="-5">-4</tspan><tspan dy="5">)</tspan></text>
<text x="106.3" y="676.8" font-size="11.9" font-family="Liberation Sans" font-weight="bold" stroke="#000" stroke-width="0.2">Ni-O</text>
<text x="138.3" y="676.8" font-size="11.9" font-family="Liberation Sans" font-weight="bold" stroke="#000" stroke-width="0.2">Ni-Me</text>
<path d="M116.5,681 V806 M146.2,681 V800" stroke="#000" stroke-width="2" stroke-dasharray="4.2,2.6" fill="none"/>
<path d="M113.3,718 V770 M144.3,714 V770" stroke="#ff2aa0" stroke-width="2" stroke-dasharray="4.2,2.6" fill="none"/>
<path d="M66.5,714.4 C67.8,714.3 71.8,713.6 74.0,713.6 C76.2,713.6 77.3,715.0 80.0,714.4 C82.7,713.8 86.7,711.6 90.0,710.0 C93.3,708.4 97.3,706.2 100.0,705.0 C102.7,703.8 104.2,704.2 106.0,703.0 C107.8,701.8 109.3,699.7 111.0,698.0 C112.7,696.3 114.5,693.5 116.0,693.0 C117.5,692.5 118.3,692.8 120.0,695.0 C121.7,697.2 124.3,703.2 126.0,706.0 C127.7,708.8 128.5,711.7 130.0,712.0 C131.5,712.3 133.3,710.5 135.0,708.0 C136.7,705.5 138.2,699.5 140.0,697.0 C141.8,694.5 144.0,692.8 146.0,693.0 C148.0,693.2 150.0,695.2 152.0,698.0 C154.0,700.8 156.0,707.4 158.0,710.0 C160.0,712.6 162.0,712.9 164.0,713.6 C166.0,714.3 167.3,713.8 170.0,714.0 C172.7,714.2 176.7,715.2 180.0,715.0 C183.3,714.8 186.7,713.5 190.0,713.0 C193.3,712.5 196.3,712.3 200.0,712.0 C203.7,711.7 208.0,710.8 212.0,711.0 C216.0,711.2 219.3,712.5 224.0,713.0 C228.7,713.5 235.7,713.7 240.0,714.0 C244.3,714.3 246.8,714.7 250.0,715.0 C253.2,715.3 257.5,715.8 259.0,716.0" fill="none" stroke="#1e8a1e" stroke-width="2.10" stroke-linejoin="round"/>
<path d="M66.5,744.0 C67.8,743.9 71.4,743.7 74.0,743.6 C76.6,743.5 79.3,744.2 82.0,743.6 C84.7,743.0 87.3,741.4 90.0,740.0 C92.7,738.6 95.7,736.2 98.0,735.0 C100.3,733.8 102.2,734.2 104.0,733.0 C105.8,731.8 107.4,729.3 109.0,728.0 C110.6,726.7 112.1,725.2 113.6,725.0 C115.1,724.8 116.3,725.3 118.0,727.0 C119.7,728.7 122.0,732.8 124.0,735.0 C126.0,737.2 128.0,740.6 130.0,740.4 C132.0,740.2 134.2,737.1 136.0,734.0 C137.8,730.9 139.5,724.4 141.0,722.0 C142.5,719.6 143.5,719.3 145.0,719.6 C146.5,719.9 148.3,721.4 150.0,724.0 C151.7,726.6 153.3,732.2 155.0,735.0 C156.7,737.8 158.5,740.0 160.0,741.0 C161.5,742.0 162.3,740.8 164.0,740.8 C165.7,740.8 167.3,740.8 170.0,741.3 C172.7,741.8 176.7,743.5 180.0,743.6 C183.3,743.7 185.0,742.6 190.0,742.0 C195.0,741.4 204.0,740.2 210.0,740.0 C216.0,739.8 221.0,740.7 226.0,741.0 C231.0,741.3 236.0,741.5 240.0,742.0 C244.0,742.5 246.8,743.8 250.0,744.0 C253.2,744.2 257.5,743.2 259.0,743.0" fill="none" stroke="#1a1ae8" stroke-width="2.10" stroke-linejoin="round"/>
<path d="M66.5,777.0 C68.1,777.0 73.1,777.1 76.0,777.0 C78.9,776.9 81.7,777.3 84.0,776.6 C86.3,775.9 88.0,774.2 90.0,773.0 C92.0,771.8 94.0,770.3 96.0,769.6 C98.0,768.9 100.0,770.3 102.0,769.0 C104.0,767.7 106.1,764.0 108.0,762.0 C109.9,760.0 111.9,757.3 113.6,757.0 C115.3,756.7 116.3,758.2 118.0,760.0 C119.7,761.8 121.9,765.4 124.0,768.0 C126.1,770.6 128.4,775.9 130.4,775.6 C132.4,775.3 134.2,769.9 136.0,766.0 C137.8,762.1 139.5,755.0 141.0,752.0 C142.5,749.0 143.5,748.0 145.0,748.0 C146.5,748.0 148.2,749.0 150.0,752.0 C151.8,755.0 154.3,762.2 156.0,766.0 C157.7,769.8 158.3,773.5 160.0,775.0 C161.7,776.5 164.3,774.6 166.0,774.8 C167.7,775.0 167.7,775.6 170.0,776.0 C172.3,776.4 176.7,777.2 180.0,777.0 C183.3,776.8 186.7,775.7 190.0,775.0 C193.3,774.3 196.7,772.8 200.0,773.0 C203.3,773.2 206.7,775.8 210.0,776.0 C213.3,776.2 216.7,774.5 220.0,774.0 C223.3,773.5 226.7,772.8 230.0,773.0 C233.3,773.2 236.7,774.3 240.0,775.0 C243.3,775.7 246.8,776.8 250.0,777.0 C253.2,777.2 257.5,776.2 259.0,776.0" fill="none" stroke="#f01a1a" stroke-width="2.10" stroke-linejoin="round"/>
<path d="M66.5,818.6 C67.8,818.3 71.8,816.7 74.0,816.6 C76.2,816.5 78.0,818.4 80.0,818.0 C82.0,817.6 83.7,815.2 86.0,814.0 C88.3,812.8 91.3,812.2 94.0,811.0 C96.7,809.8 99.7,808.2 102.0,807.0 C104.3,805.8 105.6,805.9 108.0,804.0 C110.4,802.1 114.3,796.3 116.6,795.6 C118.9,794.9 119.7,796.6 122.0,800.0 C124.3,803.4 128.1,815.5 130.4,816.0 C132.7,816.5 134.2,808.0 136.0,803.0 C137.8,798.0 139.3,789.5 141.0,786.0 C142.7,782.5 144.2,781.8 146.0,782.0 C147.8,782.2 150.0,783.2 152.0,787.0 C154.0,790.8 156.3,800.4 158.0,805.0 C159.7,809.6 160.9,812.9 162.4,814.5 C163.9,816.1 165.7,814.6 167.0,814.5 C168.3,814.4 168.2,813.4 170.0,814.0 C171.8,814.6 175.3,817.8 178.0,818.0 C180.7,818.2 182.7,815.3 186.0,815.0 C189.3,814.7 194.2,816.5 198.0,816.0 C201.8,815.5 205.3,812.0 209.0,812.0 C212.7,812.0 215.5,816.2 220.0,816.0 C224.5,815.8 232.0,811.7 236.0,811.0 C240.0,810.3 241.2,810.8 244.0,812.0 C246.8,813.2 250.5,817.2 253.0,818.0 C255.5,818.8 258.0,816.8 259.0,816.6" fill="none" stroke="#000000" stroke-width="2.10" stroke-linejoin="round"/>
<text x="164.0" y="705.2" font-size="12.5" fill="#1e8a1e" font-family="Liberation Sans" font-weight="bold" stroke="#1e8a1e" stroke-width="0.2">Discharge 1.5 V</text>
<text x="176.8" y="735.0" font-size="12.5" fill="#1a1ae8" font-family="Liberation Sans" font-weight="bold" stroke="#1a1ae8" stroke-width="0.2">Charge 4.5 V</text>
<text x="170.0" y="770.0" font-size="12.5" fill="#f01a1a" font-family="Liberation Sans" font-weight="bold" stroke="#f01a1a" stroke-width="0.2">Charge 4.2 V</text>
<text x="191.8" y="804.0" font-size="12.5" fill="#000000" font-family="Liberation Sans" font-weight="bold" stroke="#000000" stroke-width="0.2">Pristine</text>
<g stroke="#000" stroke-width="2" fill="none">
<rect x="66.2" y="659.2" width="193.2" height="163.8"/>
<path stroke-width="1.6" d="M66.4,823.0 v-4.5 M98.6,823.0 v-4.5 M130.7,823.0 v-4.5 M162.9,823.0 v-4.5 M195.1,823.0 v-4.5 M227.3,823.0 v-4.5 M259.4,823.0 v-4.5 M82.5,823.0 v-2.8 M114.7,823.0 v-2.8 M146.8,823.0 v-2.8 M179.0,823.0 v-2.8 M211.2,823.0 v-2.8 M243.3,823.0 v-2.8 "/>
</g>
<text x="300.5" y="669.5" font-size="19.3" font-family="Liberation Sans" font-weight="bold" stroke="#000" stroke-width="0.2">(f)</text>
<text x="331.3" y="836" font-size="12.5" text-anchor="middle" font-family="Liberation Sans" font-weight="bold" stroke="#000" stroke-width="0.2">0</text>
<text x="363.5" y="836" font-size="12.5" text-anchor="middle" font-family="Liberation Sans" font-weight="bold" stroke="#000" stroke-width="0.2">1</text>
<text x="395.7" y="836" font-size="12.5" text-anchor="middle" font-family="Liberation Sans" font-weight="bold" stroke="#000" stroke-width="0.2">2</text>
<text x="427.9" y="836" font-size="12.5" text-anchor="middle" font-family="Liberation Sans" font-weight="bold" stroke="#000" stroke-width="0.2">3</text>
<text x="460.1" y="836" font-size="12.5" text-anchor="middle" font-family="Liberation Sans" font-weight="bold" stroke="#000" stroke-width="0.2">4</text>
<text x="492.3" y="836" font-size="12.5" text-anchor="middle" font-family="Liberation Sans" font-weight="bold" stroke="#000" stroke-width="0.2">5</text>
<text x="524.5" y="836" font-size="12.5" text-anchor="middle" font-family="Liberation Sans" font-weight="bold" stroke="#000" stroke-width="0.2">6</text>
<text x="427.3" y="853.3" font-size="13.9" text-anchor="middle" font-family="Liberation Sans" font-weight="bold" stroke="#000" stroke-width="0.2">Radial Distance (Å)</text>
<text transform="translate(320.6,746.8) rotate(-90)" font-size="14.6" text-anchor="middle" font-family="Liberation Sans" stroke="#000" stroke-width="0.35">|χ(R)| (Å<tspan font-size="9" dy="-5">-4</tspan><tspan dy="5">)</tspan></text>
<text x="362.3" y="674.3" font-size="12.1" font-family="Liberation Sans" font-weight="bold" stroke="#000" stroke-width="0.2">Mn-O</text>
<text x="396.6" y="674.3" font-size="12.1" font-family="Liberation Sans" font-weight="bold" stroke="#000" stroke-width="0.2">Mn-Me</text>
<path d="M378,676 V784 M409.6,676 V784" stroke="#000" stroke-width="2" stroke-dasharray="4.2,2.6" fill="none"/>
<path d="M331.5,721.0 C332.4,720.7 335.2,719.0 337.0,719.0 C338.8,719.0 340.0,721.3 342.0,721.0 C344.0,720.7 346.8,717.4 349.0,717.0 C351.2,716.6 353.0,719.8 355.0,718.6 C357.0,717.4 358.8,712.8 361.0,710.0 C363.2,707.2 366.0,704.7 368.0,702.0 C370.0,699.3 371.3,696.7 373.0,694.0 C374.7,691.3 376.3,686.3 378.0,686.0 C379.7,685.7 381.2,688.3 383.0,692.0 C384.8,695.7 387.0,703.7 389.0,708.0 C391.0,712.3 393.0,718.0 395.0,718.0 C397.0,718.0 399.3,712.3 401.0,708.0 C402.7,703.7 403.6,695.6 405.0,692.0 C406.4,688.4 407.7,686.1 409.4,686.4 C411.1,686.7 413.1,690.1 415.0,694.0 C416.9,697.9 419.3,706.7 421.0,710.0 C422.7,713.3 423.7,713.4 425.0,714.0 C426.3,714.6 427.3,712.9 429.0,713.6 C430.7,714.3 432.7,717.6 435.0,718.0 C437.3,718.4 440.0,716.0 443.0,716.0 C446.0,716.0 449.7,717.5 453.0,718.0 C456.3,718.5 459.7,719.5 463.0,719.0 C466.3,718.5 469.7,714.9 473.0,715.0 C476.3,715.1 479.3,719.4 483.0,719.6 C486.7,719.8 491.3,716.6 495.0,716.0 C498.7,715.4 501.3,715.2 505.0,716.0 C508.7,716.8 513.8,720.3 517.0,721.0 C520.2,721.7 522.8,720.2 524.0,720.0" fill="none" stroke="#1e8a1e" stroke-width="2.10" stroke-linejoin="round"/>
<path d="M331.5,764.4 C332.6,764.0 336.1,762.1 338.0,762.0 C339.9,761.9 341.0,764.2 343.0,763.6 C345.0,763.0 347.8,759.5 350.0,758.4 C352.2,757.3 354.0,758.1 356.0,757.0 C358.0,755.9 359.8,755.2 362.0,752.0 C364.2,748.8 367.0,742.0 369.0,738.0 C371.0,734.0 372.6,730.1 374.0,728.0 C375.4,725.9 376.3,725.1 377.6,725.6 C378.9,726.1 380.4,726.9 382.0,731.0 C383.6,735.1 385.3,744.3 387.0,750.0 C388.7,755.7 390.3,762.8 392.0,765.0 C393.7,767.2 395.3,765.5 397.0,763.0 C398.7,760.5 400.5,753.8 402.0,750.0 C403.5,746.2 404.7,742.1 406.0,740.0 C407.3,737.9 408.3,736.9 409.6,737.6 C410.9,738.3 412.4,740.3 414.0,744.0 C415.6,747.7 417.7,756.5 419.0,760.0 C420.3,763.5 420.7,764.8 422.0,765.0 C423.3,765.2 425.0,760.9 427.0,761.0 C429.0,761.1 431.8,765.3 434.0,765.6 C436.2,765.9 437.5,762.8 440.0,763.0 C442.5,763.2 445.5,766.7 449.0,767.0 C452.5,767.3 457.0,765.7 461.0,765.0 C465.0,764.3 469.0,762.8 473.0,763.0 C477.0,763.2 481.3,765.9 485.0,766.0 C488.7,766.1 491.0,763.5 495.0,763.6 C499.0,763.7 504.2,765.8 509.0,766.4 C513.8,767.0 521.5,766.9 524.0,767.0" fill="none" stroke="#1a1ae8" stroke-width="2.10" stroke-linejoin="round"/>
<path d="M331.5,814.0 C332.4,813.7 335.1,812.5 337.0,812.4 C338.9,812.3 340.7,814.2 343.0,813.6 C345.3,813.0 348.7,809.9 351.0,809.0 C353.3,808.1 355.0,809.2 357.0,808.0 C359.0,806.8 361.0,805.3 363.0,802.0 C365.0,798.7 367.2,792.2 369.0,788.0 C370.8,783.8 372.5,779.7 374.0,777.0 C375.5,774.3 376.5,771.8 378.0,772.0 C379.5,772.2 381.2,773.7 383.0,778.0 C384.8,782.3 386.9,792.2 389.0,798.0 C391.1,803.8 393.4,812.7 395.4,813.0 C397.4,813.3 399.2,805.5 401.0,800.0 C402.8,794.5 404.6,784.7 406.0,780.0 C407.4,775.3 408.3,772.0 409.6,772.0 C410.9,772.0 412.4,776.0 414.0,780.0 C415.6,784.0 417.5,792.0 419.0,796.0 C420.5,800.0 421.5,802.7 423.0,804.0 C424.5,805.3 425.7,802.3 428.0,804.0 C430.3,805.7 434.5,813.2 437.0,814.4 C439.5,815.6 440.8,811.2 443.0,811.0 C445.2,810.8 447.7,813.0 450.0,813.0 C452.3,813.0 454.7,810.8 457.0,811.0 C459.3,811.2 461.2,815.1 464.0,814.4 C466.8,813.7 470.5,806.9 474.0,807.0 C477.5,807.1 481.8,814.6 485.0,815.0 C488.2,815.4 489.7,810.6 493.0,809.6 C496.3,808.6 501.0,808.2 505.0,809.0 C509.0,809.8 513.8,813.7 517.0,814.4 C520.2,815.1 522.8,813.2 524.0,813.0" fill="none" stroke="#000000" stroke-width="2.10" stroke-linejoin="round"/>
<text x="429.0" y="706.0" font-size="12.5" fill="#1e8a1e" font-family="Liberation Sans" font-weight="bold" stroke="#1e8a1e" stroke-width="0.2">Discharge 1.5 V</text>
<text x="440.8" y="757.0" font-size="12.5" fill="#1a1ae8" font-family="Liberation Sans" font-weight="bold" stroke="#1a1ae8" stroke-width="0.2">Charge 4.5 V</text>
<text x="454.8" y="800.0" font-size="12.5" fill="#000000" font-family="Liberation Sans" font-weight="bold" stroke="#000000" stroke-width="0.2">Pristine</text>
<g stroke="#000" stroke-width="2" fill="none">
<rect x="331.1" y="658.4" width="193.3" height="164.0"/>
<path stroke-width="1.6" d="M331.3,822.4 v-4.5 M363.5,822.4 v-4.5 M395.7,822.4 v-4.5 M427.9,822.4 v-4.5 M460.1,822.4 v-4.5 M492.3,822.4 v-4.5 M524.5,822.4 v-4.5 M347.4,822.4 v-2.8 M379.6,822.4 v-2.8 M411.8,822.4 v-2.8 M444.0,822.4 v-2.8 M476.2,822.4 v-2.8 M508.4,822.4 v-2.8 "/>
</g>
</svg></body></html>
